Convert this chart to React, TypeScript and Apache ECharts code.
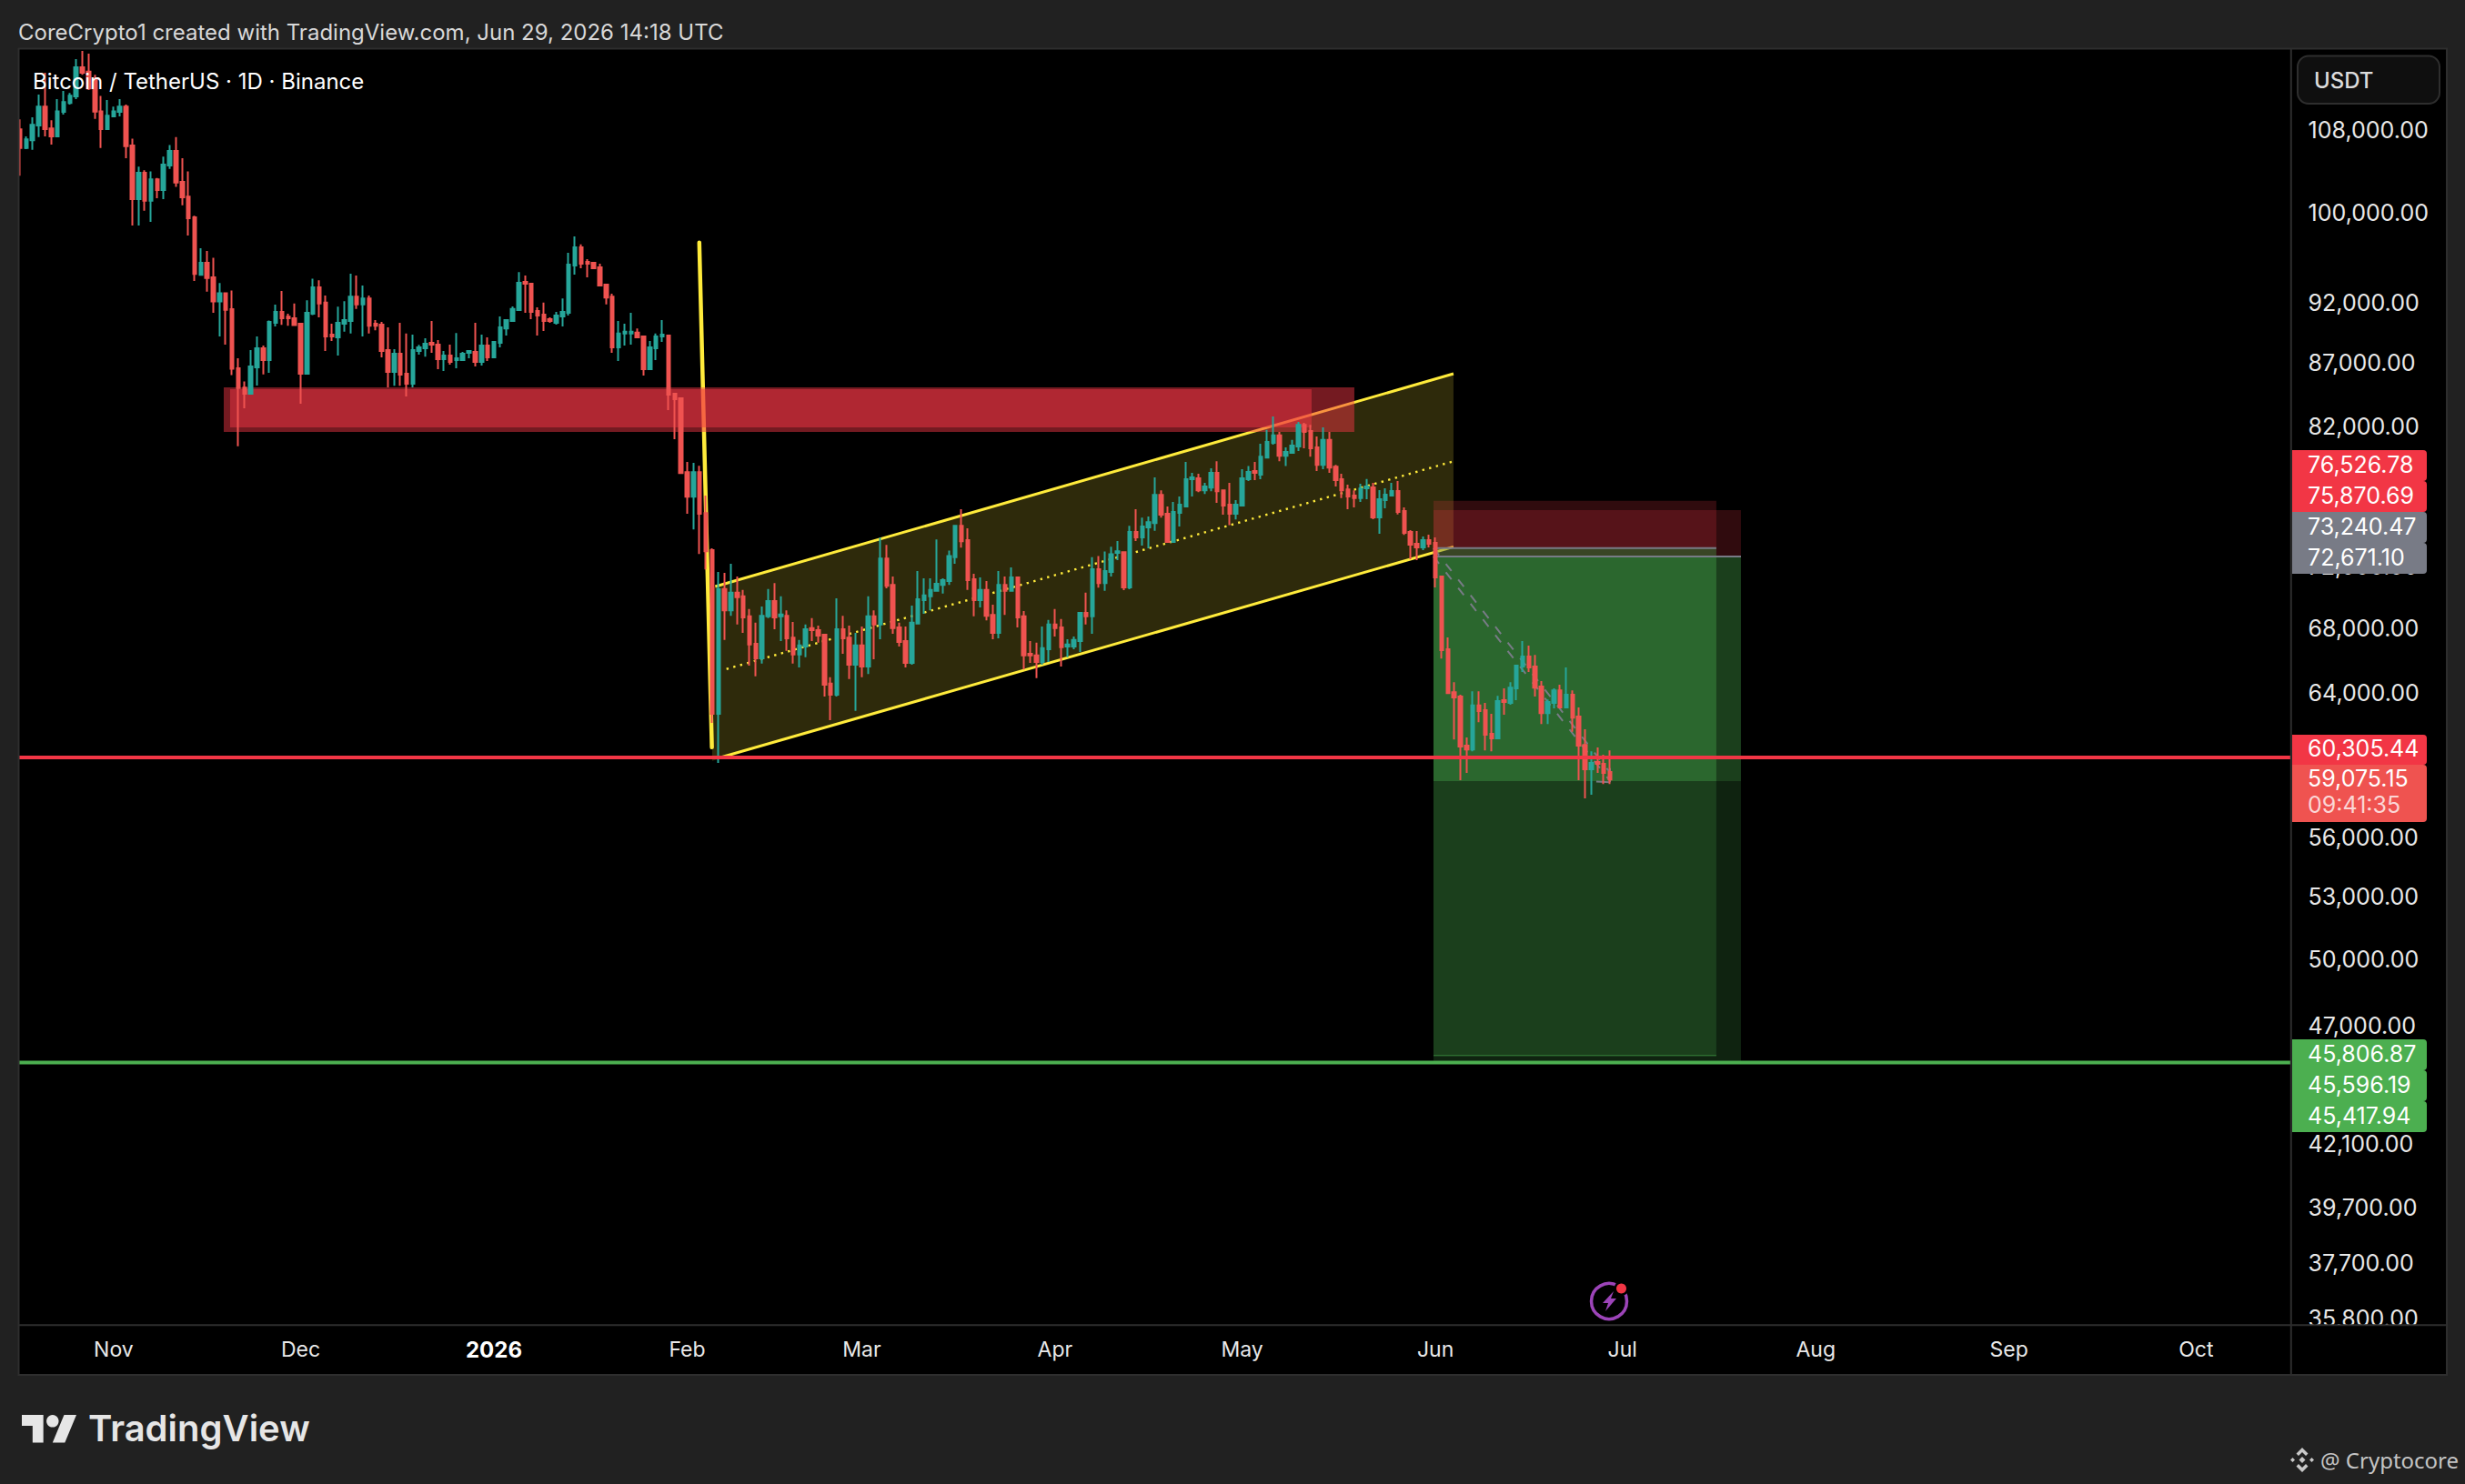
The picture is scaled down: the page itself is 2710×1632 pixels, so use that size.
import React, { useEffect, useRef } from "react";
import * as echarts from "echarts";

// Daily candles as [open, close, low, high], one list per calendar month.
const oct2025 = [
  [108050,106210,103500,109060],[106210,107070,106090,107350],[106980,108510,106030,109275],[108450,110355,107285,111615],
  [110355,108080,107350,113900],[108140,107350,106535,108970],[107350,109885,107350,111140],[109825,110830,109550,111990],
  [110730,111500,110570,111770],[111420,114480,111140,115350],[114480,113900,113675,116225],[114000,112240,112085,115935],
  [113190,109855,109120,113675],[109885,108080,106210,111455],[108080,109430,108080,111045],
];
const nov2025 = [
  [109370,109885,109275,110355],[109825,110355,109370,111140],[110355,106390,105200,110570],[106450,101275,98825,107130],
  [101275,103790,98825,104375],[103790,101130,100200,104020],[101130,103150,99160,103930],[103150,102140,101360,103295],
  [102140,104570,101275,105350],[104490,105915,104165,106505],[105915,102860,102430,107285],[102920,101450,100710,105200],
  [101505,99500,97910,103930],[99585,94475,93870,99725],[94395,95460,94395,96770],[95460,94130,92940,96520],
  [94185,92090,91135,95915],[92090,92810,89155,93680],[92810,91390,88480,92810],[91440,86510,86000,93045],
  [86560,84985,80510,87360],[85010,84535,83395,85510],[84535,86705,84535,88025],[86630,88175,85175,89155],
  [88175,87215,86070,88400],[87215,90360,86190,90485],[90285,91210,89985,91825],[91210,90670,90110,92990],
  [90800,90670,90040,91060],[90670,90100,90100,91930],
];
const dec2025 = [
  [90205,86115,83750,90255],[86115,91135,86040,92195],[91060,93310,90930,94060],[93310,91930,90750,93925],
  [92000,89160,87950,92595],[89310,89160,88780,90205],[89085,90280,87590,91650],[90205,90515,89540,92115],
  [90440,92515,89390,94510],[92515,91850,91450,94350],[91850,92355,89160,93470],[92355,90050,89390,92595],
  [90205,90050,89660,90515],[90130,87950,87440,90360],[88030,86265,85030,89900],[86265,87730,85160,88100],
  [87730,86040,85160,90280],[86115,85320,84320,89390],[85320,88030,85030,89310],[87950,88250,87660,88450],
  [88175,88550,87490,89000],[88630,88480,87800,90440],[88480,87290,86480,88860],[87290,87590,86340,87950],
  [87590,87070,86850,88480],[87220,87365,86560,89440],[87220,87730,87145,87880],[87800,87950,87365,87950],
  [87875,87070,86700,90280],[87070,88400,86780,89310],[88400,87440,87145,89085],
];
const jan2026 = [
  [87440,88700,87440,88780],[88630,89900,88250,90825],[89820,90515,89235,90590],[90440,91450,90440,91680],
  [91370,93710,91370,94650],[93790,93630,91135,94350],[93630,91215,90590,93630],[91290,90900,89235,91600],
  [90980,90440,89595,92000],[90590,90440,90280,90750],[90280,90900,90130,91215],[90825,91215,89975,92355],
  [91135,95310,90900,96360],[95230,96850,94430,97840],[96850,95390,94990,97100],[95550,95390,94190,95785],
  [95470,94990,94910,95550],[95070,93470,93470,95390],[93550,92435,91850,93550],[92515,88250,87800,92755],
  [88250,89390,87145,90440],[89390,89540,88400,90205],[89390,89540,88480,91135],[89465,89085,89085,89820],
  [89160,86480,85970,89235],[86480,88250,86410,88780],[88175,89160,87220,89390],[89160,89310,88700,90515],
  [89235,84460,83250,89235],[84530,84100,81040,84600],[84180,78535,78535,84180],
];
const feb2026 = [
  [78600,76830,75610,79350],[76830,78600,74525,79280],[78600,75610,72845,79060],[75670,73030,71800,76900],
  [73100,62800,62270,73225],[62800,70490,59990,71640],[70510,69130,67250,71580],[69130,70270,68770,72190],
  [70270,69970,68220,71330],[70030,68680,67700,70450],[68740,66970,65670,69210],[67020,66120,65020,68340],
  [66120,68770,65790,69370],[68740,69730,68630,70510],[69730,68680,67930,70900],[68740,68860,67190,70030],
  [68770,67350,66570,69130],[67400,66350,65790,68390],[66350,66910,65560,67250],[66850,67930,66180,68220],
  [67990,67870,67190,68630],[67870,67520,67080,68160],[67580,64520,63810,67580],[64580,63920,62430,64960],
  [63920,67930,63810,69910],[67930,67350,66400,68770],[67400,65730,64850,68160],[65730,66910,62970,67700],
];
const mar2026 = [
  [66910,65620,64960,68100],[65620,68740,65160,70030],[68740,68220,66060,69130],[68220,72530,67290,73950],
  [72530,70720,70560,73460],[70780,67990,67640,71330],[68040,67130,66850,68340],[67190,65840,65560,68100],
  [65840,68340,65730,69430],[68280,69850,68280,71700],[69790,70090,68910,71210],[70030,70450,69130,71210],
  [70390,70860,70330,73840],[70780,71090,70210,71210],[71030,72700,70780,73080],[72630,74780,72190,74780],
  [74780,73710,73280,75930],[73780,71090,70450,74600],[71150,69790,68740,71510],[69790,70450,69310,71270],
  [70450,68770,68490,71030],[68830,67700,67290,69490],[67700,70780,67350,71700],[70780,70390,68830,71330],
  [70390,71270,70330,71940],[71270,68680,68040,71330],[68740,66290,65440,69080],[66400,66290,65840,67190],
  [66290,65890,64910,67080],[65890,66740,65730,68100],[66680,68220,65890,68510],
];
const apr2026 = [
  [68220,67990,67470,69210],[68040,66800,65620,68570],[66850,66970,66180,67290],[66850,67250,66680,67470],
  [67190,68970,66510,69030],[68970,68740,68220,70270],[68740,71820,67640,72630],[71820,70900,70600,72700],
  [70900,71700,70390,73010],[71640,72830,71330,73330],[72920,73030,72430,73720],[72970,70620,70440,73030],
  [70620,74350,70500,74770],[74350,73980,73720,75940],[73980,74730,73410,75350],[74670,75030,73230,75420],
  [74970,76950,74420,78210],[76950,75550,75350,77280],[75610,73660,73660,76130],[73660,75740,73660,76450],
  [75680,76260,74730,76840],[76130,78080,76060,79340],[78080,78210,76840,78550],[78150,77280,77150,78480],
  [77280,77550,77020,77810],[77480,78550,77220,78880],[78550,77220,76390,79390],[77280,76190,75550,77350],
  [76260,75610,74820,77810],[75610,76260,75220,76580],
];
const may2026 = [
  [76190,78150,76190,78810],[78080,78610,77950,79050],[78680,78550,78010,79340],[78410,79730,78080,80700],
  [79660,80840,79660,81750],[80770,81320,80630,82760],[81320,79800,79390,81590],[79800,80080,79050,80420],
  [80010,80560,80010,80980],[80490,82130,80150,82340],[82130,81590,80350,82270],[81660,80350,79730,82130],
  [80420,79120,78680,81250],[79120,80980,78810,81930],[80980,78920,78550,81590],[78990,78010,77550,79120],
  [78080,77280,76730,78480],[77350,76840,75940,77680],[76900,76730,76060,77280],[76730,77410,76450,77750],
  [77430,77560,76640,78090],[77490,75360,75240,77820],[75360,76640,74220,77300],[76580,76970,76000,77430],
  [76900,77230,76840,77820],[77230,75750,75560,77950],[75810,74280,74150,76060],[74350,73480,72490,74470],
  [73540,73290,72430,74410],[73290,73790,73100,74030],[73790,73540,73290,74160],
];
const jun2026 = [
  [73600,71280,70610,73970],[71340,66620,66100,71340],[66670,64010,64010,67410],[64070,63750,61320,64670],
  [63810,60910,59040,63920],[60960,60750,59440,61430],[60750,63280,60650,64120],[63280,62950,62310,64120],
  [63000,61590,60700,63430],[61640,61380,60650,62790],[61380,63540,61380,63850],[63600,63490,62740,64290],
  [63430,64340,63330,64670],[64290,65670,63600,65720],[65610,66220,65280,67180],[66220,65560,65280,66900],
  [65610,64340,63810,66330],[64400,62840,62200,64730],[62840,63490,62200,63630],[63430,64180,63110,64290],
  [64180,63170,63170,64510],[63170,63920,63170,65560],[63920,62570,61750,64180],[62630,60960,59040,63170],
  [61010,59640,58050,61900],[59640,59990,58250,60650],[60040,59940,59440,60860],[59940,59440,58830,60450],
  [59490,59075.15,58830,60700],
];
const candles = [...oct2025, ...nov2025, ...dec2025, ...jan2026, ...feb2026, ...mar2026, ...apr2026, ...may2026, ...jun2026];

// Right axis and time axis
const priceTicks = [108000, 100000, 92000, 87000, 82000, 72000, 68000, 64000, 56000, 53000, 50000, 47000, 42100, 39700, 37700, 35800];
const monthLabels: Record<string, string> = {
  "2025-11-01": "Nov", "2025-12-01": "Dec", "2026-01-01": "2026", "2026-02-01": "Feb", "2026-03-01": "Mar", "2026-04-01": "Apr",
  "2026-05-01": "May", "2026-06-01": "Jun", "2026-07-01": "Jul", "2026-08-01": "Aug", "2026-09-01": "Sep", "2026-10-01": "Oct",
};
const firstDay = Date.UTC(2025, 9, 17);
const dayCount = 365;
const categories = Array.from({ length: dayCount }, (_, i) => new Date(firstDay + i * 86400000).toISOString().slice(0, 10));

// Drawings in chart coordinates: [bar index, price, bar index, price]
const zoneOuter = [[32.67, 81585, 214.0, 85030]];
const zoneInner = [[33.69, 81935, 207.14, 84885]];
const channelFill = [[111.0, 70600, 229.9, 86117, 229.9, 73330, 111.0, 60110]];
const channelEdges = [[111.5, 70672, 229.9, 86117], [112.47, 60312, 229.9, 73330]];
const channelMiddle = [[113.3, 65460, 229.9, 79390]];
const crashLine = [[108.94, 97280, 110.96, 60870]];
const supportLine = [[-2, 60305.44, 366, 60305.44]];
const targetLine = [[-2, 45417.94, 366, 45417.94]];
const shortOneStop = [[226.69, 76526.78, 272.06, 73240.47]];
const shortOneTarget = [[226.69, 73240.47, 272.06, 45720]];
const shortOneReached = [[226.69, 73240.47, 272.06, 58995]];
const shortTwoStop = [[226.69, 75870.69, 276.0, 72671.1]];
const shortTwoTarget = [[226.69, 72671.1, 276.0, 45490]];
const shortTwoReached = [[226.69, 72671.1, 276.0, 58995]];
const entryLines = [[226.69, 73240.47, 272.06, 73240.47], [226.69, 72671.1, 276.0, 72671.1]];
const targetEdges = [[226.69, 45720, 272.06, 45720]];
const pathLines = [[226.69, 73240.47, 255, 59470], [226.69, 72671.1, 255, 59000]];
const pathArrow = [[252.8, 58960, 255, 58930], [255, 58930, 255, 59700]];

const priceTags = [
  { text: "76,526.78", top: 495, bottom: 529, color: "#f23645" },
  { text: "75,870.69", top: 529, bottom: 563, color: "#f23645" },
  { text: "73,240.47", top: 563, bottom: 597, color: "#787b86" },
  { text: "72,671.10", top: 597, bottom: 631, color: "#787b86" },
  { text: "60,305.44", top: 808, bottom: 841, color: "#f23645" },
  { text: "45,806.87", top: 1143, bottom: 1177, color: "#4caf50" },
  { text: "45,596.19", top: 1177, bottom: 1211, color: "#4caf50" },
  { text: "45,417.94", top: 1211, bottom: 1245, color: "#4caf50" },
];

const UP = "#26a69a";
const DOWN = "#ef5350";
const FONT = "Inter";
const PAGE = "#212121";
const EDGE = "#2e2e2e";

const segmentSeries = (data: number[][], z: number, style: any) => ({
  type: "custom", xAxisIndex: 1, yAxisIndex: 0, z, silent: true, clip: true, data,
  renderItem: (_: any, api: any) => {
    const a = api.coord([api.value(0), api.value(1)]);
    const b = api.coord([api.value(2), api.value(3)]);
    return { type: "line", shape: { x1: a[0], y1: a[1], x2: b[0], y2: b[1] }, style: { fill: null, ...style } };
  },
});
const boxSeries = (data: number[][], z: number, fill: string) => ({
  type: "custom", xAxisIndex: 1, yAxisIndex: 0, z, silent: true, clip: true, data,
  renderItem: (_: any, api: any) => {
    const a = api.coord([api.value(0), api.value(1)]);
    const b = api.coord([api.value(2), api.value(3)]);
    return {
      type: "rect",
      shape: { x: Math.min(a[0], b[0]), y: Math.min(a[1], b[1]), width: Math.abs(b[0] - a[0]), height: Math.abs(b[1] - a[1]) },
      style: { fill },
    };
  },
});
const polygonSeries = (data: number[][], z: number, fill: string) => ({
  type: "custom", xAxisIndex: 1, yAxisIndex: 0, z, silent: true, clip: true, data,
  renderItem: (_: any, api: any) => ({
    type: "polygon",
    shape: { points: [0, 2, 4, 6].map((k) => api.coord([api.value(k), api.value(k + 1)])) },
    style: { fill },
  }),
});

const text = (t: string, x: number, y: number, size: number, fill: string, z: number, extra: any = {}) => ({
  type: "text", z, silent: true,
  style: { text: t, x, y, fill, fontFamily: extra.family || FONT, fontSize: size, fontWeight: extra.weight || 400, textAlign: extra.align || "left", textVerticalAlign: "middle" },
});
const rect = (x: number, y: number, width: number, height: number, fill: string, z: number, r: any = 0) => ({
  type: "rect", z, silent: true, shape: { x, y, width, height, r }, style: { fill },
});
const poly = (points: number[][], fill: string, z: number) => ({ type: "polygon", z, silent: true, shape: { points }, style: { fill } });

const frameGraphics = () => {
  const logoX = 24, logoY = 1549.3, s = 1.69;
  const logo = (pts: number[][]) => poly(pts.map(([x, y]) => [logoX + x * s, logoY + y * s]), "#e6e6e6", 36);
  const bx = 2531, by = 1605.5;
  const binance = (pts: number[][]) => poly(pts.map(([x, y]) => [bx + x, by + y]), "#c9c9c9", 36);
  return [
    rect(20, 54, 2670, 1458, "#000000", -1),
    rect(0, 54, 20, 1458, PAGE, 32),
    rect(2519, 54, 171, 1403, "#000000", 30),
    rect(20, 1458, 2670, 54, "#000000", 32),
    rect(20, 52.5, 2671, 2, EDGE, 33),
    rect(20, 1511, 2671, 2, EDGE, 33),
    rect(19.5, 53, 2, 1460, EDGE, 33),
    rect(2689, 53, 2, 1460, EDGE, 33),
    rect(2517.8, 53, 2, 1460, EDGE, 33),
    rect(20, 1456.2, 2670, 2, EDGE, 33),
    {
      type: "rect", z: 35, silent: true, shape: { x: 2526, y: 61.5, width: 156, height: 52.5, r: 12 },
      style: { fill: "#0f0f0f", stroke: "#2e2e2e", lineWidth: 2 },
    },
    text("USDT", 2544, 88, 24, "#dcdcdc", 36, { weight: 500 }),
    ...priceTags.flatMap((t) => [
      rect(2520, t.top, 148, t.bottom - t.top, t.color, 35, [0, 4, 4, 0]),
      text(t.text, 2537, (t.top + t.bottom) / 2 - 1.5, 25, "#ffffff", 36),
    ]),
    rect(2520, 841, 148, 63, DOWN, 35, [0, 4, 4, 0]),
    text("59,075.15", 2537, 856, 25, "#ffffff", 36),
    text("09:41:35", 2537, 885, 25, "#fbd7d6", 36),
    text("CoreCrypto1 created with TradingView.com, Jun 29, 2026 14:18 UTC", 20, 35, 24, "#d8d8d8", 36),
    text("Bitcoin / TetherUS · 1D · Binance", 36, 89, 24, "#ffffff", 36),
    logo([[14, 22], [7, 22], [7, 11], [0, 11], [0, 4], [14, 4]]),
    logo([[28, 22], [20, 22], [27.5, 4], [35.5, 4]]),
    { type: "circle", z: 36, silent: true, shape: { cx: logoX + 20 * s, cy: logoY + 8 * s, r: 4 * s }, style: { fill: "#e6e6e6" } },
    text("TradingView", 97, 1570, 40, "#e6e6e6", 36, { weight: 600 }),
    binance([[0, -13.5], [6.5, -7], [4, -4.5], [0, -8.5], [-4, -4.5], [-6.5, -7]]),
    binance([[0, 13.5], [6.5, 7], [4, 4.5], [0, 8.5], [-4, 4.5], [-6.5, 7]]),
    binance([[0, -3.5], [3.5, 0], [0, 3.5], [-3.5, 0]]),
    binance([[-10.5, -2.5], [-8, 0], [-10.5, 2.5], [-13, 0]]),
    binance([[10.5, -2.5], [13, 0], [10.5, 2.5], [8, 0]]),
    text("@ Cryptocore", 2551, 1605, 24, "#c4c4c4", 36, { family: "Noto Sans" }),
    { type: "circle", z: 36, silent: true, shape: { cx: 1769, cy: 1431, r: 19.5 }, style: { fill: "#000000", stroke: "#9c44b8", lineWidth: 3.5 } },
    poly([[1774, 1420], [1762, 1433], [1768, 1433], [1765, 1442], [1777, 1428], [1771, 1428]], "#9c44b8", 36),
    { type: "circle", z: 36, silent: true, shape: { cx: 1782.5, cy: 1417, r: 8 }, style: { fill: "#000000" } },
    { type: "circle", z: 36, silent: true, shape: { cx: 1782.5, cy: 1417, r: 5.5 }, style: { fill: "#f23645" } },
  ];
};

export default function App() {
  const ref = useRef<HTMLDivElement>(null);
  useEffect(() => {
    const chart = echarts.init(ref.current!, undefined, { renderer: "svg" });
    const option: any = {
      animation: false,
      backgroundColor: PAGE,
      grid: { left: 18.6, top: 54, width: 2502, height: 1403, containLabel: false },
      xAxis: [
        {
          type: "category", data: categories, boundaryGap: true, z: 34,
          axisLine: { show: false }, axisTick: { show: false }, splitLine: { show: false },
          axisLabel: {
            interval: (_: number, v: string) => v in monthLabels,
            hideOverlap: false, margin: 15, fontFamily: FONT, fontSize: 23, color: "#e8e8e8", verticalAlign: "top",
            formatter: (v: string) => (v === "2026-01-01" ? "{b|2026}" : monthLabels[v] || ""),
            rich: { b: { fontFamily: FONT, fontSize: 24, fontWeight: 700, color: "#ffffff" } },
          },
        },
        { type: "value", min: -0.5, max: dayCount - 0.5, show: false },
      ],
      yAxis: {
        type: "log", logBase: 10, min: 35600, max: 116420, position: "right", z: 31,
        axisLine: { show: false }, axisTick: { show: false }, splitLine: { show: false }, minorSplitLine: { show: false },
        axisLabel: {
          customValues: priceTicks, margin: 17, fontFamily: FONT, fontSize: 25, color: "#e8e8e8", align: "left",
          showMinLabel: true, showMaxLabel: true, hideOverlap: false, padding: [0, 0, 2, 0],
          formatter: (v: number) => Number(v).toLocaleString("en-US", { minimumFractionDigits: 2, maximumFractionDigits: 2 }),
        },
      },
      series: [
        polygonSeries(channelFill, 5, "rgba(255,235,59,0.18)"),
        segmentSeries(channelEdges, 6, { stroke: "#ffeb3b", lineWidth: 3 }),
        segmentSeries(channelMiddle, 6.1, { stroke: "#ffeb3b", lineWidth: 2.4, lineDash: [2.4, 5.4] }),
        segmentSeries(crashLine, 7, { stroke: "#ffeb3b", lineWidth: 4.5, lineCap: "round" }),
        boxSeries(zoneOuter, 8, "rgba(242,54,69,0.48)"),
        boxSeries(zoneInner, 9, "rgba(242,54,69,0.48)"),
        boxSeries(shortOneStop, 10, "rgba(242,54,69,0.2)"),
        boxSeries(shortTwoStop, 10.1, "rgba(242,54,69,0.2)"),
        boxSeries(shortOneTarget, 10.2, "rgba(76,175,80,0.2)"),
        boxSeries(shortTwoTarget, 10.3, "rgba(76,175,80,0.2)"),
        boxSeries(shortOneReached, 10.4, "rgba(76,175,80,0.2)"),
        boxSeries(shortTwoReached, 10.5, "rgba(76,175,80,0.2)"),
        segmentSeries(targetEdges, 10.6, { stroke: "rgba(76,175,80,0.45)", lineWidth: 1.5 }),
        segmentSeries(entryLines, 11, { stroke: "#787b86", lineWidth: 2 }),
        segmentSeries(pathLines, 12, { stroke: "#787b86", lineWidth: 2, lineDash: [10, 12] }),
        segmentSeries(pathArrow, 12.1, { stroke: "#787b86", lineWidth: 2 }),
        {
          type: "candlestick", xAxisIndex: 0, yAxisIndex: 0, z: 20, silent: true, data: candles, barWidth: 4,
          itemStyle: { color: UP, color0: DOWN, borderColor: UP, borderColor0: DOWN, borderColorDoji: DOWN, borderWidth: 2 },
        },
        segmentSeries(supportLine, 25, { stroke: "#f23645", lineWidth: 4 }),
        segmentSeries(targetLine, 25.1, { stroke: "#4caf50", lineWidth: 4 }),
      ],
      graphic: { elements: frameGraphics() },
    };
    chart.setOption(option);
    return () => chart.dispose();
  }, []);
  return <div ref={ref} style={{ position: "fixed", left: 0, top: 0, width: 2710, height: 1632 }} />;
}
